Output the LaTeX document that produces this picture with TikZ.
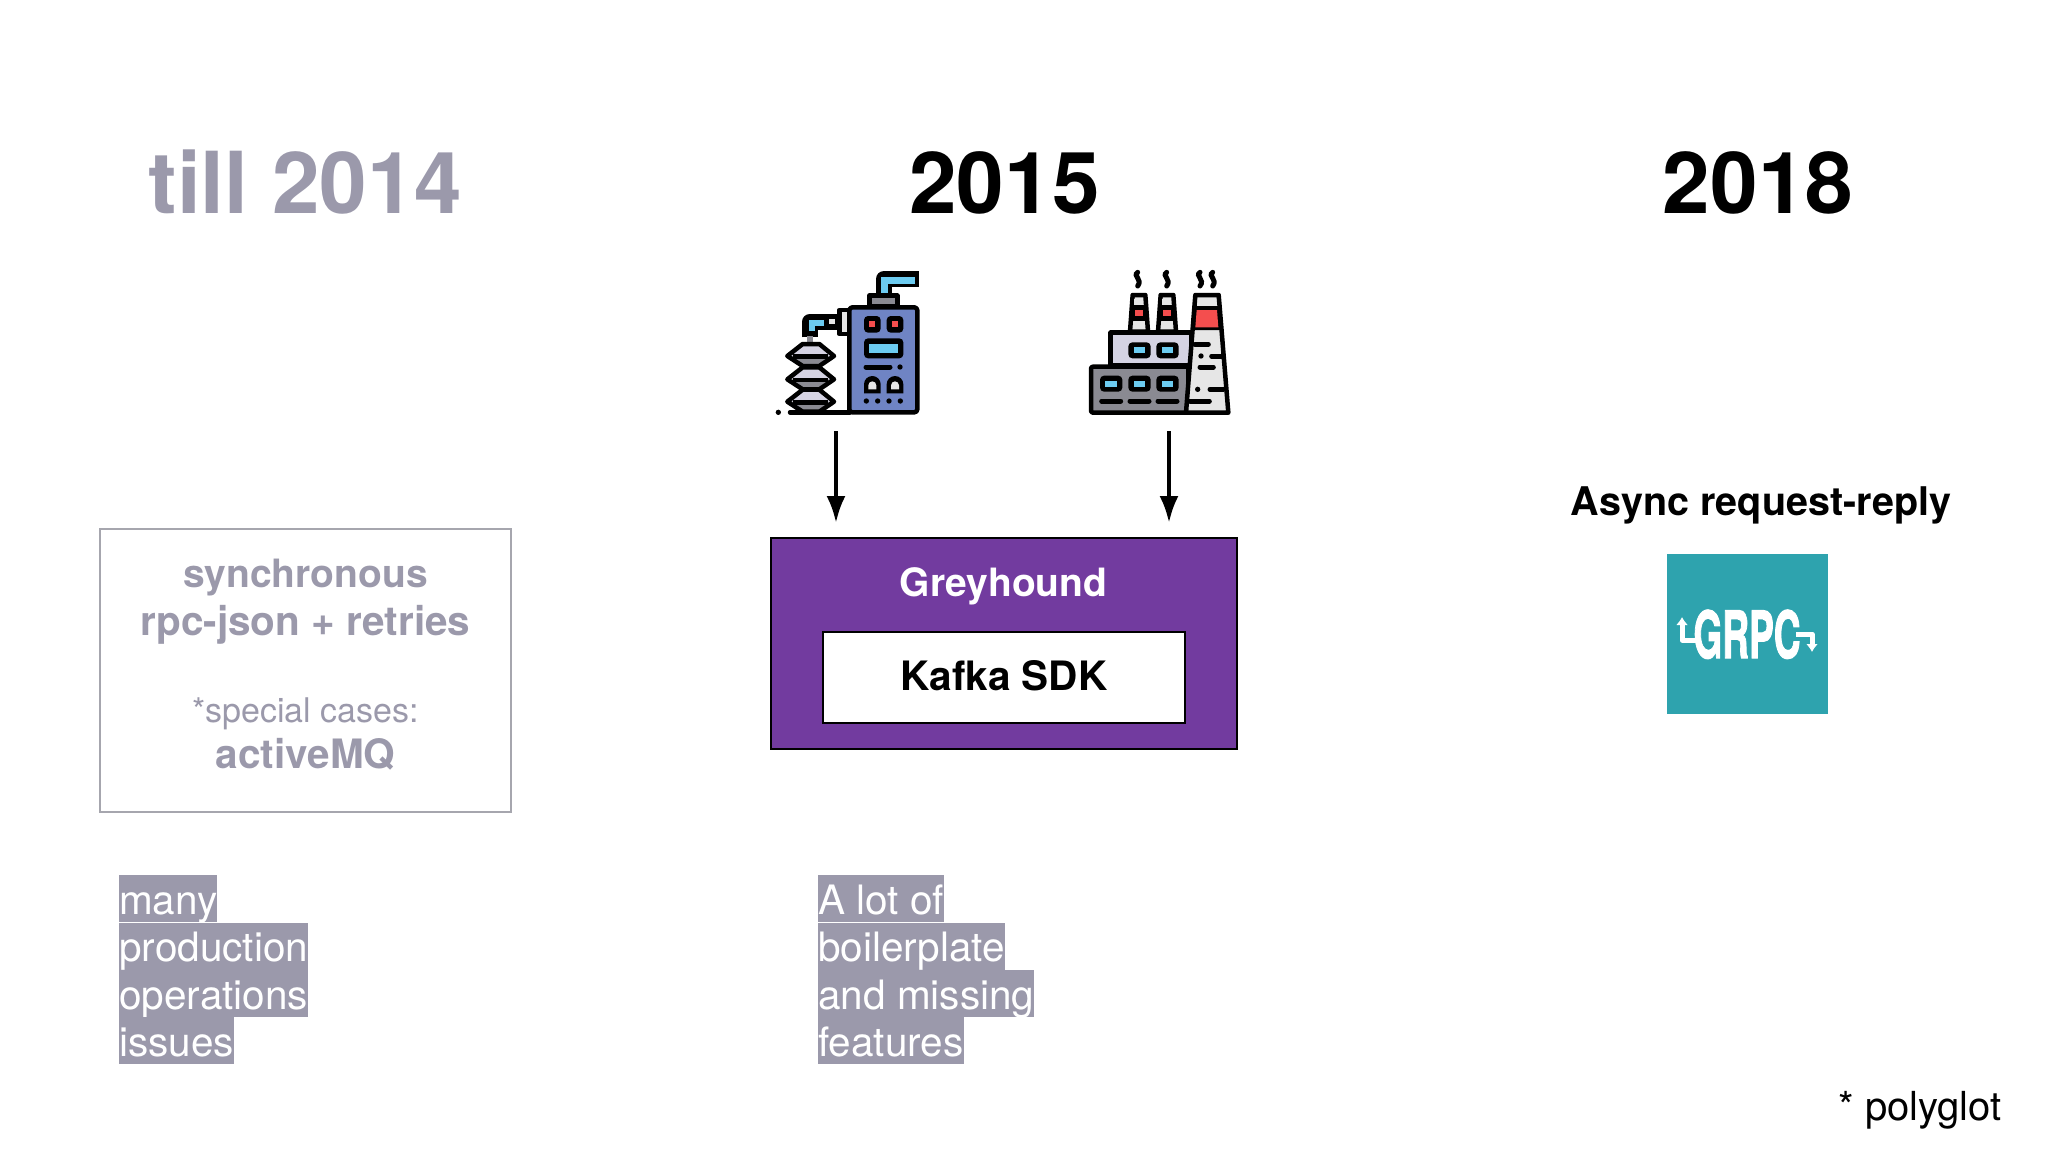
\documentclass[tikz,border=0pt]{standalone}
\usepackage{fontspec}
\setmainfont{TeX Gyre Heros}
\newfontfamily\grpcfont[FakeBold=2]{TeX Gyre Heros}
\usetikzlibrary{arrows.meta}
\definecolor{fade}{HTML}{9B99AB}
\definecolor{edge}{HTML}{A6A6AE}
\definecolor{plum}{HTML}{723B9F}
\definecolor{teal}{HTML}{2EA3AE}
\definecolor{sky}{HTML}{6CCBF0}
\definecolor{steel}{HTML}{6F84C4}
\definecolor{flame}{HTML}{F44E4E}
\definecolor{lilac}{HTML}{D5D3E3}
\definecolor{ash}{HTML}{8A8A92}
\definecolor{chalk}{HTML}{E6E6E6}
\tikzset{
  year/.style={anchor=base,font=\fontsize{85.5}{85.5}\selectfont\bfseries},
  strong/.style={anchor=base,font=\fontsize{39}{39}\selectfont\bfseries},
  large/.style={anchor=base,font=\fontsize{40.5}{40.5}\selectfont\bfseries},
  plain/.style={anchor=base,font=\fontsize{34}{34}\selectfont},
  hilite/.style={anchor=north west,fill=fade,text=white,inner sep=0pt,text height=39pt,text depth=8pt,font=\fontsize{40.5}{40.5}\selectfont},
  flow/.style={line width=4pt,-{Latex[length=27pt,width=19pt]},shorten >=14pt},
  ink/.style={draw=black,line width=4.5pt,line join=round},
  pad/.style={fill=black,rounded corners=4pt},
  stroke/.style={line width=5pt,line cap=round},
}
\begin{document}
\begin{tikzpicture}[x=1pt,y=-1pt]
\useasboundingbox (0,0) rectangle (2048,1152);

\node[year,text=fade] (till) at (305.5,213) {till 2014};
\node[year] (mid) at (1004.5,213) {2015};
\node[year] (late) at (1758,213) {2018};

\node[draw=edge,line width=2pt,minimum width=411,minimum height=283,inner sep=0pt] (sync) at (305.5,670.5) {};
\node[strong,text=fade] (synca) at (305.5,587.5) {synchronous};
\node[large,text=fade] (syncb) at (305.5,635) {rpc-json + retries};
\node[plain,text=fade] (syncc) at (305.5,722.5) {*special cases:};
\node[large,text=fade] (syncd) at (305.5,768.5) {activeMQ};

\node[hilite] (many) at (119,875) {many};
\node[hilite] (prod) at (many.south west) {production};
\node[hilite] (oper) at (prod.south west) {operations};
\node[hilite] (issu) at (oper.south west) {issues};

\node[draw=black,line width=2pt,fill=plum,minimum width=466,minimum height=211,inner sep=0pt] (grey) at (1004,643.5) {};
\node[strong,text=white] (greyname) at (1003.5,596) {Greyhound};
\node[draw=black,line width=2pt,fill=white,minimum width=362,minimum height=91,inner sep=0pt] (kafka) at (1004,677.5) {};
\node[large] (kafkaname) at (1004,690) {Kafka SDK};

\node[hilite] (alot) at (818,875) {A lot of};
\node[hilite] (boil) at (alot.south west) {boilerplate};
\node[hilite] (miss) at (boil.south west) {and missing};
\node[hilite] (feat) at (miss.south west) {features};

\coordinate (pumpout) at (836,431);
\coordinate (plantout) at (1169,431);
\draw[flow] (pumpout) -- (pumpout |- grey.north);
\draw[flow] (plantout) -- (plantout |- grey.north);

\begin{scope}[shift={(760,250)},scale=1/3]
\draw[line width=16pt,line join=round] (372,135) -- (372,87) -- (478,87);
\draw[sky,line width=7pt] (372,130) -- (372,90) -- (465,90);
\draw[ink,fill=ash] (328,137) rectangle (412,170);
\draw[line width=16pt,line join=round] (150,262) -- (150,215) -- (240,215);
\draw[sky,line width=6pt] (155,242) -- (155,218) -- (192,218);
\fill[chalk] (208,207) rectangle (226,223);
\fill[ash] (140,258) rectangle (160,276);
\draw[ink,fill=chalk] (238,180) rectangle (268,252);
\foreach \y in {318,388,455} {
  \fill[lilac] (85,\y) -- (128,\y-36) -- (178,\y-36) -- (218,\y) -- cycle;
  \fill[ash] (85,\y) -- (128,\y+30) -- (178,\y+30) -- (218,\y) -- cycle;
  \draw[ink] (82,\y) -- (128,\y-36) -- (178,\y-36) -- (222,\y) -- (178,\y+30) -- (128,\y+30) -- cycle;
  \draw[ink] (100,\y+2) -- (205,\y+2);
}
\draw[ink,line cap=round] (90,487) -- (270,487);
\fill (55,487) circle[radius=8];
\draw[ink,fill=steel,rounded corners=3pt] (268,172) rectangle (472,487);
\foreach \x in {337,405} {
  \fill[pad] (\x-25,198) rectangle (\x+25,248);
  \fill[flame] (\x-9,214) rectangle (\x+9,232);
  \fill (\x-25,430) -- (\x-25,403) arc[start angle=180,end angle=360,radius=25] -- (\x+25,430) -- cycle;
  \fill[chalk] (\x-12,418) -- (\x-12,406) arc[start angle=180,end angle=360,radius=12] -- (\x+12,418) -- cycle;
}
\fill[pad] (312,265) rectangle (430,325);
\fill[sky] (328,282) rectangle (413,310);
\draw[stroke] (318,351) -- (390,351);
\fill (420,351) circle[radius=8];
\foreach \x in {319,353,387,421} {
  \fill (\x,453) circle[radius=8];
}
\end{scope}

\begin{scope}[shift={(1080,250)},scale=1/3]
\foreach \x in {173,260,360,398} {
  \draw[line width=5pt,line cap=round] (\x,67) .. controls (\x-16,78) and (\x+16,88) .. (\x,108);
}
\foreach \x in {0,84} {
  \draw[ink,fill=chalk] (158+\x,135) -- (196+\x,135) -- (204+\x,245) -- (150+\x,245) -- cycle;
  \fill (154+\x,165) rectangle (200+\x,212);
  \fill[chalk] (162+\x,148) -- (187+\x,148) -- (187+\x,164) -- (162+\x,164) -- cycle;
  \fill[flame] (165+\x,180) rectangle (190+\x,198);
}
\draw[ink,fill=lilac] (92,248) rectangle (335,345);
\foreach \x in {145,229} {
  \fill[pad] (\x,277) rectangle (\x+67,325);
  \fill[sky] (\x+16,292) rectangle (\x+50,310);
}
\draw[ink,fill=ash,rounded corners=2pt] (33,350) rectangle (325,488);
\foreach \x in {60,145,229} {
  \fill[pad] (\x,377) rectangle (\x+67,425);
  \fill[sky] (\x+16,393) rectangle (\x+50,411);
  \draw[stroke] (\x+5,453) -- (\x+62,453);
}
\draw[ink,fill=chalk] (346,135) -- (416,135) -- (445,488) -- (318,488) -- cycle;
\fill (344,168) -- (416,168) -- (420,240) -- (340,240) -- cycle;
\fill[flame] (350,180) -- (411,180) -- (415,232) -- (346,232) -- cycle;
\draw[stroke] (345,283) -- (385,283);
\draw[stroke] (395,318) -- (425,318);
\draw[stroke] (360,351) -- (400,351);
\draw[stroke] (390,418) -- (430,418);
\draw[stroke] (330,453) -- (388,453);
\fill (363,318) circle[radius=8];
\fill (353,418) circle[radius=8];
\end{scope}

\node[strong,font=\fontsize{39.5}{39.5}\selectfont\bfseries] (async) at (1761,515) {Async request-reply};
\node[fill=teal,minimum width=161,minimum height=160,inner sep=0pt] (grpc) at (1747.5,634) {};
\node[text=white,xscale=.57,anchor=base,font=\fontsize{65}{65}\selectfont\grpcfont\bfseries] (grpcname) at (1747,658) {GRPC};
\coordinate (grpcl) at (1696,640);
\coordinate (grpcr) at (1796,634);
\draw[white,line width=5pt,line join=round,-{Latex[length=8pt,width=12pt]}] (grpcl) -- (1682,640) -- (1682,617);
\draw[white,line width=5pt,line join=round,-{Latex[length=8pt,width=12pt]}] (grpcr) -- (1812,634) -- (1812,652);

\node[anchor=base,font=\fontsize{40}{40}\selectfont] (poly) at (1920,1120) {* polyglot};
\end{tikzpicture}
\end{document}
